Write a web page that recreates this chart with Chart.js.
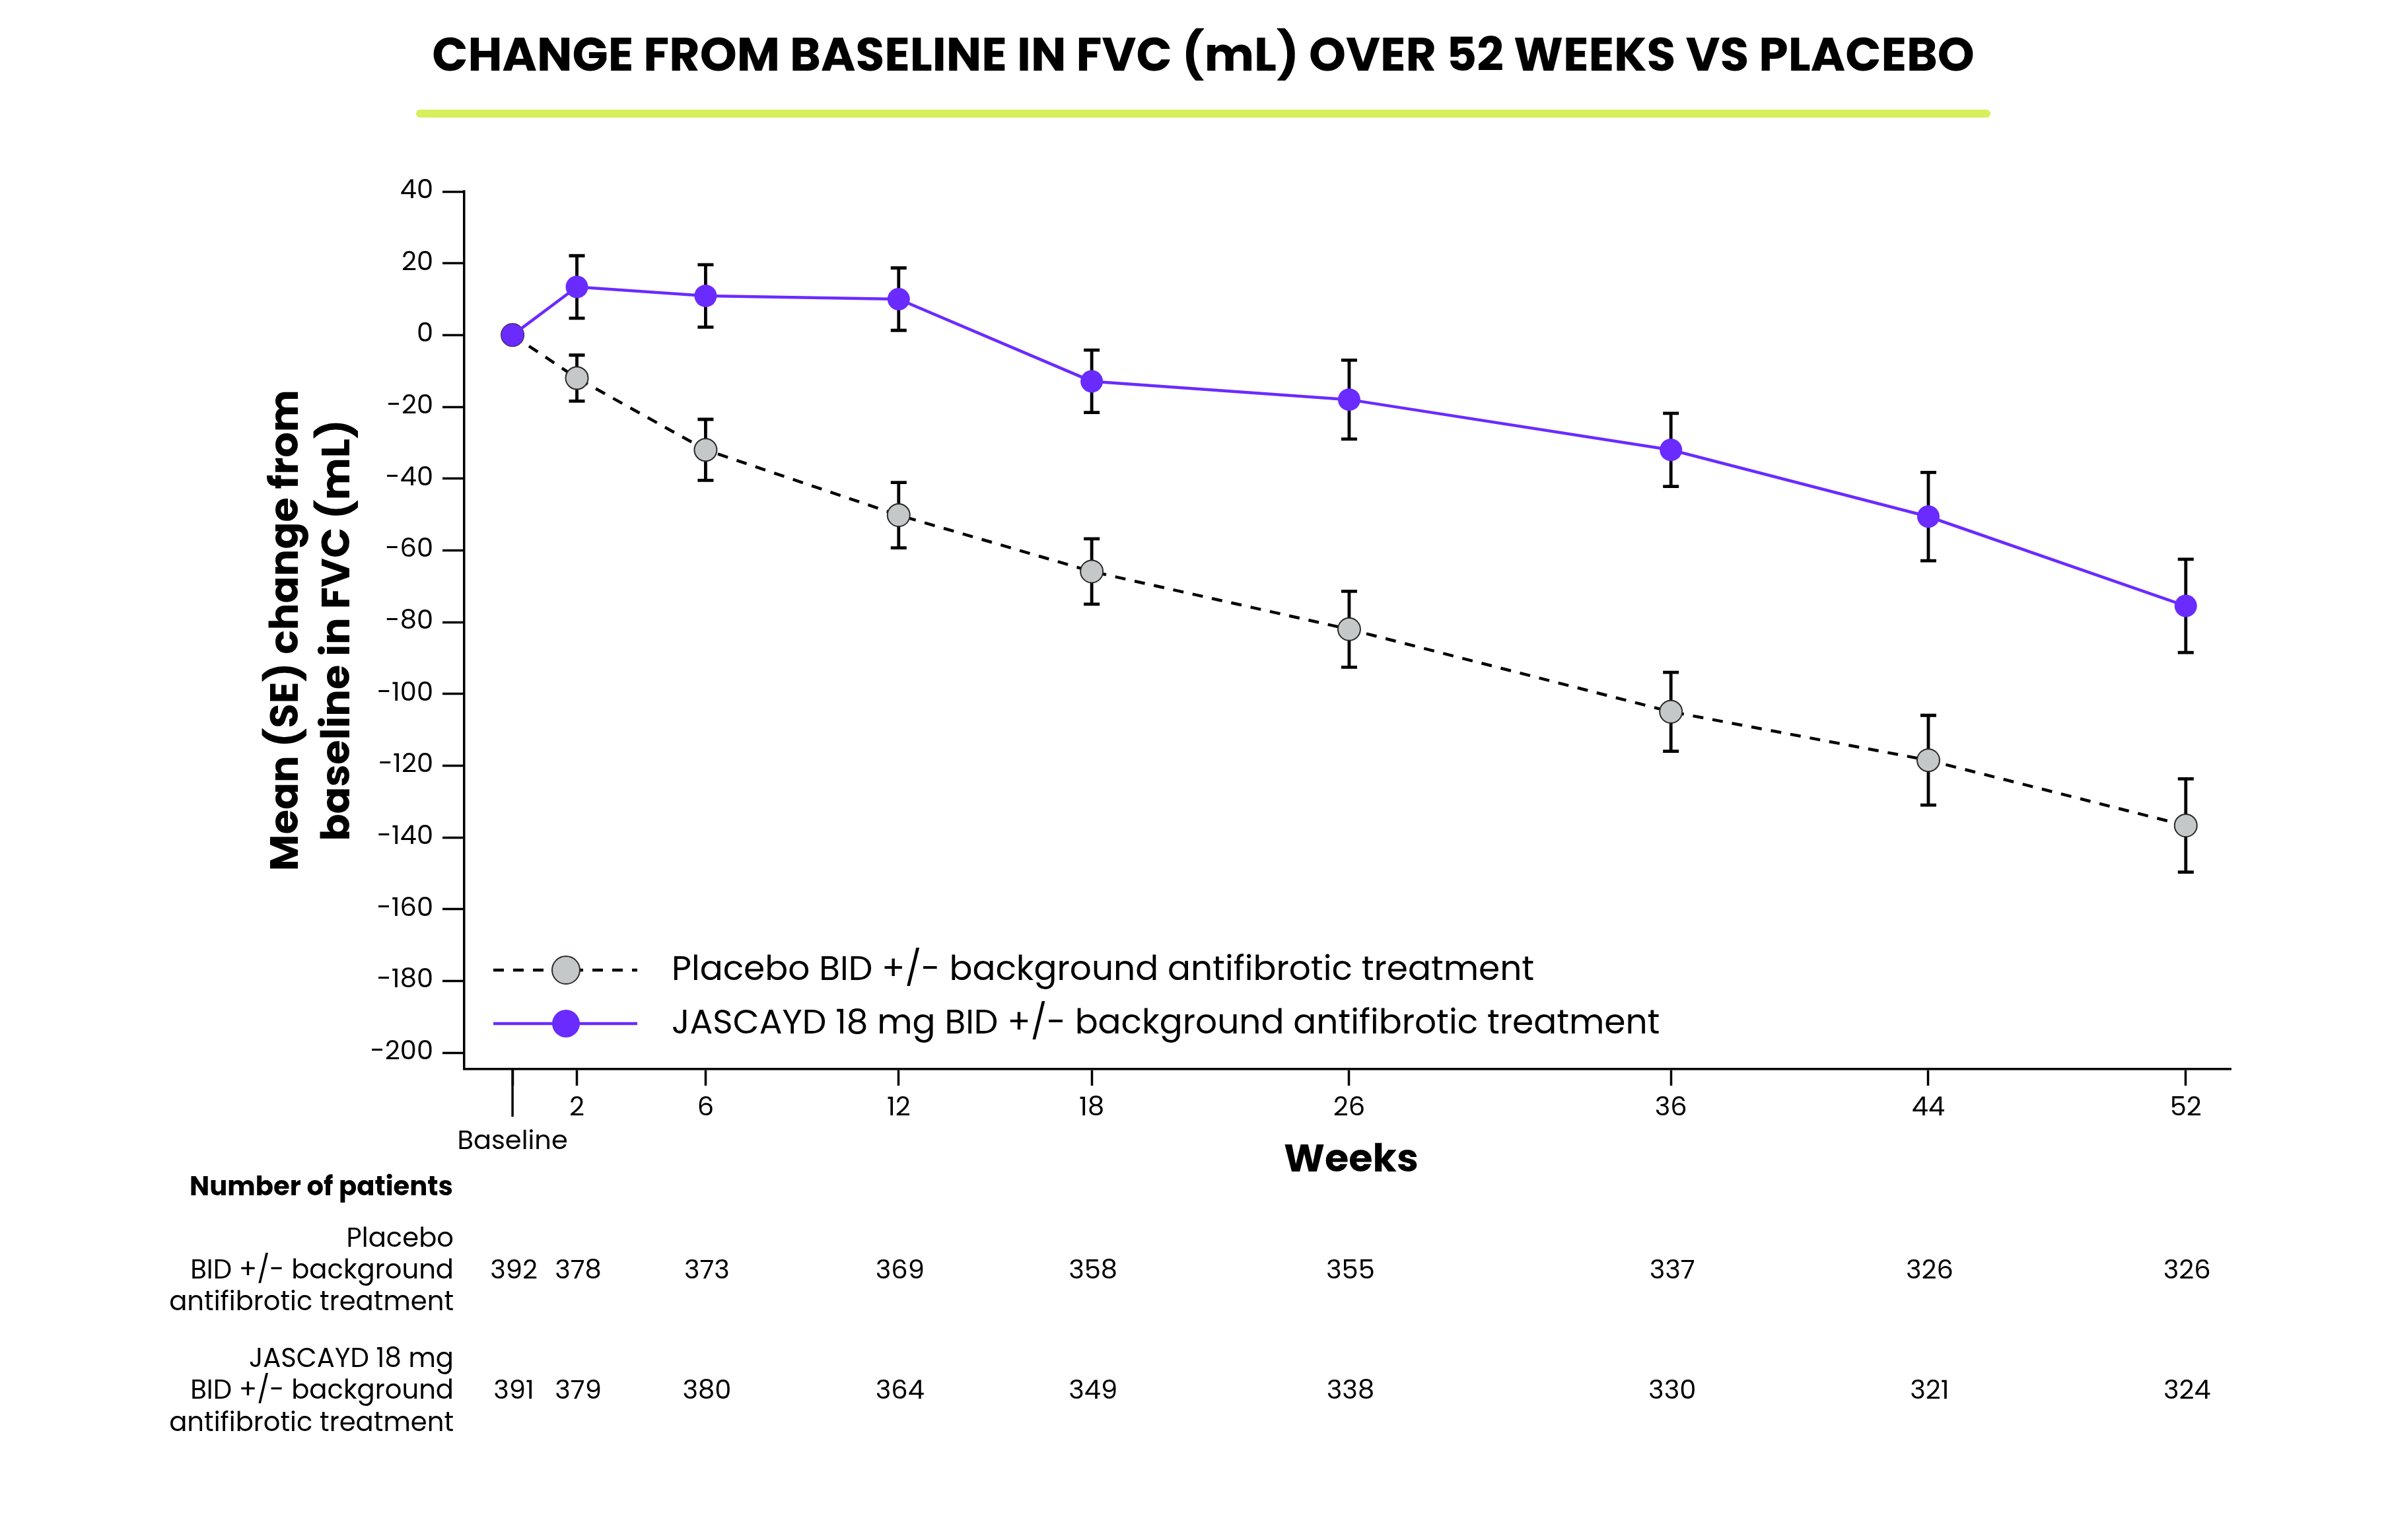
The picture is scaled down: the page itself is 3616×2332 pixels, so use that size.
<!DOCTYPE html>
<html>
<head>
<meta charset="utf-8">
<script src="https://cdn.jsdelivr.net/npm/chart.js@4.4.1/dist/chart.umd.min.js"></script>
<style>
  html, body { margin: 0; padding: 0; background: #ffffff; }
  #wrap { width: 3616px; height: 2332px; position: relative; }
  canvas { display: block; }
</style>
</head>
<body>
<div id="wrap"><canvas id="c" width="3616" height="2332"></canvas></div>
<script>
// ---------------- DATA ----------------
const weeks = [0, 2, 6, 12, 18, 26, 36, 44, 52];
const placeboMean = [0, -12, -32, -50.2, -65.9, -82, -105, -118.5, -136.7];
const placeboSE   = [0, 6.4, 8.5, 9.1, 9.1, 10.6, 11, 12.5, 13];
const jascaydMean = [0, 13.4, 10.9, 10, -12.9, -18, -32, -50.6, -75.5];
const jascaydSE   = [0, 8.7, 8.7, 8.7, 8.7, 11, 10.2, 12.3, 13];
const placeboN = [392, 378, 373, 369, 358, 355, 337, 326, 326];
const jascaydN = [391, 379, 380, 364, 349, 338, 330, 321, 324];
const yTicks = [40, 20, 0, -20, -40, -60, -80, -100, -120, -140, -160, -180, -200];
const xTickLabels = ['Baseline', '2', '6', '12', '18', '26', '36', '44', '52'];
const seriesNames = [
  'Placebo BID +/- background antifibrotic treatment',
  'JASCAYD 18 mg BID +/- background antifibrotic treatment'
];
const titleText = 'CHANGE FROM BASELINE IN FVC (mL) OVER 52 WEEKS VS PLACEBO';
const yTitleLines = ['Mean (SE) change from', 'baseline in FVC (mL)'];
const xTitleText = 'Weeks';
const tableHeader = 'Number of patients';
const rowLabels = [
  ['Placebo', 'BID +/- background', 'antifibrotic treatment'],
  ['JASCAYD 18 mg', 'BID +/- background', 'antifibrotic treatment']
];

// ---------------- STYLE ----------------
const FAM = "'Poppins', 'Inter', 'Noto Sans', sans-serif";
const PURPLE = '#6a2bff';
const GREY = '#c4c8c8';
const GREEN = '#d6ef5b';
Chart.defaults.font.family = FAM;
Chart.defaults.color = '#000';

function fitSize(ctx, text, weight, width) {
  ctx.font = weight + ' 100px ' + FAM;
  return 100 * width / ctx.measureText(text).width;
}

const deco = {
  id: 'deco',
  beforeDatasetsDraw(chart) {
    const ctx = chart.ctx, xs = chart.scales.x, ys = chart.scales.y;
    ctx.save();
    ctx.strokeStyle = '#000';
    ctx.lineWidth = 4.8;
    const cap = 12;
    [[placeboMean, placeboSE], [jascaydMean, jascaydSE]].forEach(([m, s]) => {
      weeks.forEach((w, i) => {
        if (!s[i]) return;
        const px = xs.getPixelForValue(w);
        const yt = ys.getPixelForValue(m[i] + s[i]);
        const yb = ys.getPixelForValue(m[i] - s[i]);
        ctx.beginPath();
        ctx.moveTo(px, yt); ctx.lineTo(px, yb);
        ctx.moveTo(px - cap, yt); ctx.lineTo(px + cap, yt);
        ctx.moveTo(px - cap, yb); ctx.lineTo(px + cap, yb);
        ctx.stroke();
      });
    });
    ctx.restore();
  },
  afterDraw(chart) {
    const ctx = chart.ctx, xs = chart.scales.x, ys = chart.scales.y;
    const area = chart.chartArea;
    ctx.save();
    ctx.fillStyle = '#000';

    // Title
    let sz = fitSize(ctx, titleText, '700', 2336);
    ctx.font = '700 ' + sz + 'px ' + FAM;
    ctx.textAlign = 'center';
    ctx.textBaseline = 'alphabetic';
    ctx.fillText(titleText, 1822, 107);

    // Green underline
    ctx.strokeStyle = GREEN;
    ctx.lineWidth = 12;
    ctx.lineCap = 'round';
    ctx.beginPath();
    ctx.moveTo(636, 172); ctx.lineTo(3008, 172);
    ctx.stroke();
    ctx.lineCap = 'butt';

    // Y axis title (rotated)
    const ySz = fitSize(ctx, yTitleLines[0], '700', 729);
    ctx.save();
    ctx.translate(0, (area.top + area.bottom) / 2);
    ctx.rotate(-Math.PI / 2);
    ctx.font = '700 ' + ySz + 'px ' + FAM;
    ctx.textAlign = 'center';
    ctx.textBaseline = 'middle';
    ctx.fillText(yTitleLines[0], 0, 436);
    ctx.fillText(yTitleLines[1], 0, 514);
    ctx.restore();

    // Long baseline tick
    const bx = xs.getPixelForValue(weeks[0]);
    ctx.strokeStyle = '#000';
    ctx.lineWidth = 3.5;
    ctx.beginPath();
    ctx.moveTo(bx, area.bottom); ctx.lineTo(bx, area.bottom + 72);
    ctx.stroke();

    // X axis title
    const xSz = fitSize(ctx, xTitleText, '700', 204);
    ctx.font = '700 ' + xSz + 'px ' + FAM;
    ctx.textAlign = 'center';
    ctx.textBaseline = 'middle';
    ctx.fillText(xTitleText, (xs.getPixelForValue(weeks[0]) + xs.getPixelForValue(weeks[weeks.length - 1])) / 2 + 3, 1759);

    // Legend (inside plot, bottom-left)
    const lSz = fitSize(ctx, seriesNames[1], '400', 1497);
    const legRows = [1469, 1550];
    [0, 1].forEach((k) => {
      const ds = chart.data.datasets[k];
      const y = legRows[k];
      const x0 = area.left + 44, x1 = area.left + 262, mx = area.left + 154;
      ctx.save();
      ctx.strokeStyle = ds.borderColor;
      ctx.lineWidth = ds.borderWidth;
      ctx.setLineDash(ds.borderDash || []);
      ctx.beginPath(); ctx.moveTo(x0, y); ctx.lineTo(x1, y); ctx.stroke();
      ctx.setLineDash([]);
      ctx.beginPath();
      ctx.arc(mx, y, 21, 0, Math.PI * 2);
      ctx.fillStyle = ds.pointBackgroundColor;
      ctx.fill();
      if (ds.pointBorderWidth) {
        ctx.lineWidth = ds.pointBorderWidth;
        ctx.strokeStyle = ds.pointBorderColor;
        ctx.stroke();
      }
      ctx.restore();
      ctx.font = '400 ' + lSz + 'px ' + FAM;
      ctx.textAlign = 'left';
      ctx.textBaseline = 'middle';
      ctx.fillStyle = '#000';
      ctx.fillText(seriesNames[k], 1017, y + 2);
    });

    // Number-of-patients table
    const hSz = fitSize(ctx, tableHeader, '700', 399);
    ctx.font = '700 ' + hSz + 'px ' + FAM;
    ctx.textAlign = 'right';
    ctx.textBaseline = 'middle';
    ctx.fillText(tableHeader, 686, 1800);

    const rSz = fitSize(ctx, rowLabels[0][2], '400', 431);
    ctx.font = '400 ' + rSz + 'px ' + FAM;
    const rowY = [[1878, 1926, 1974], [2060, 2108, 2157]];
    rowLabels.forEach((lines, r) => {
      lines.forEach((t, j) => ctx.fillText(t, 687, rowY[r][j]));
    });
    ctx.font = '400 40px ' + FAM;
    ctx.textAlign = 'center';
    [placeboN, jascaydN].forEach((arr, r) => {
      arr.forEach((n, i) => {
        ctx.fillText(String(n), xs.getPixelForValue(weeks[i]) + 2, rowY[r][1]);
      });
    });
    ctx.restore();
  }
};

const ctx = document.getElementById('c').getContext('2d');
new Chart(ctx, {
  type: 'line',
  data: {
    datasets: [
      {
        label: seriesNames[0],
        data: weeks.map((w, i) => ({ x: w, y: placeboMean[i] })),
        borderColor: '#000',
        borderWidth: 4.5,
        borderDash: [16, 14],
        pointRadius: 17,
        pointBackgroundColor: GREY,
        pointBorderColor: '#2a2a2a',
        pointBorderWidth: 2,
        fill: false,
        tension: 0,
        order: 1
      },
      {
        label: seriesNames[1],
        data: weeks.map((w, i) => ({ x: w, y: jascaydMean[i] })),
        borderColor: PURPLE,
        borderWidth: 4.5,
        pointRadius: 17,
        pointBackgroundColor: PURPLE,
        pointBorderColor: PURPLE,
        pointBorderWidth: 0,
        fill: false,
        tension: 0,
        order: 0
      }
    ]
  },
  options: {
    responsive: false,
    animation: false,
    devicePixelRatio: 1,
    layout: { padding: { left: 503, right: 238, top: 290, bottom: 563 } },
    plugins: {
      legend: { display: false },
      title: { display: false },
      tooltip: { enabled: false }
    },
    scales: {
      x: {
        type: 'linear',
        min: -1.5,
        max: 53.4,
        afterBuildTicks: (s) => { s.ticks = weeks.map(v => ({ value: v })); },
        afterFit: (s) => { s.height = 150; },
        ticks: {
          autoSkip: false,
          maxRotation: 0,
          minRotation: 0,
          padding: 10,
          font: { size: 40, lineHeight: 1.27 },
          color: '#000',
          callback: (v) => {
            const i = weeks.indexOf(v);
            if (i === 0) return ['', xTickLabels[0]];
            return i >= 0 ? xTickLabels[i] : '';
          }
        },
        grid: {
          drawOnChartArea: false,
          drawTicks: true,
          tickLength: 25,
          tickWidth: 3.5,
          tickColor: '#000'
        },
        border: { display: true, color: '#000', width: 3.5 }
      },
      y: {
        type: 'linear',
        min: -204.6,
        max: 40,
        afterBuildTicks: (s) => { s.ticks = yTicks.map(v => ({ value: v })); },
        afterFit: (s) => { s.width = 200; },
        ticks: {
          padding: 14,
          font: { size: 40 },
          color: '#000'
        },
        grid: {
          drawOnChartArea: false,
          drawTicks: true,
          tickLength: 33,
          tickWidth: 3.5,
          tickColor: '#000'
        },
        border: { display: true, color: '#000', width: 3.5 }
      }
    }
  },
  plugins: [deco]
});
</script>
</body>
</html>
